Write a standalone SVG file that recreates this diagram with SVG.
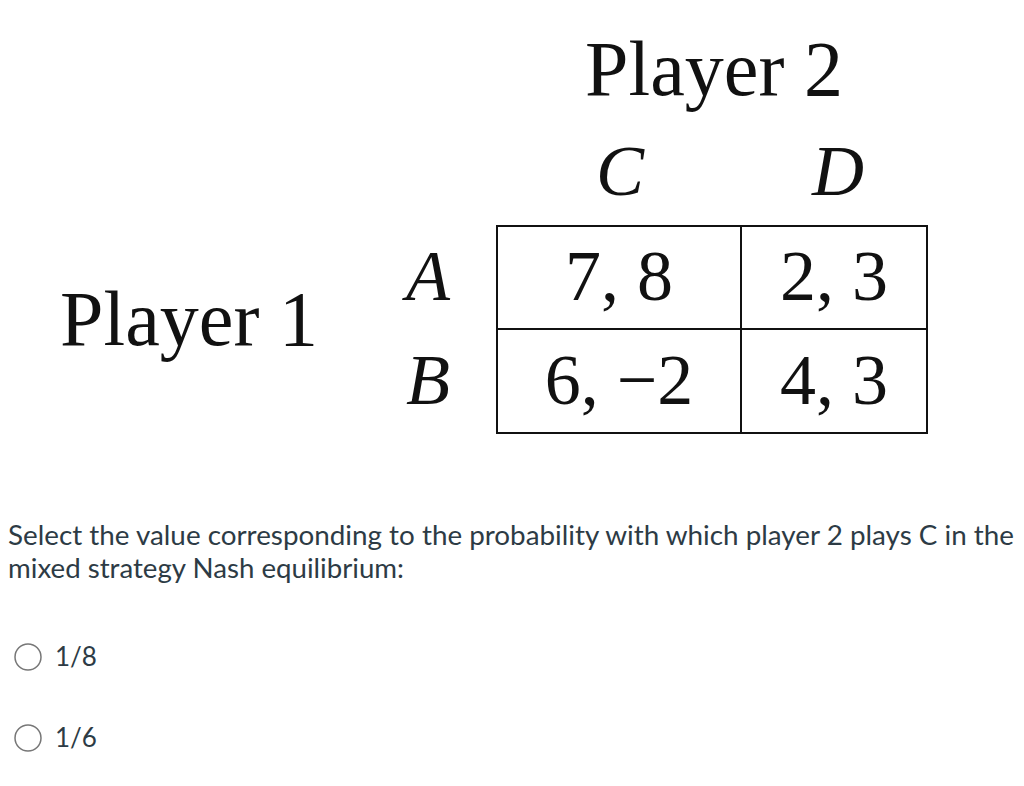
<svg xmlns="http://www.w3.org/2000/svg" width="1024" height="786" viewBox="0 0 1024 786">
<style>
.s{font-family:"Liberation Serif","DejaVu Serif",serif;fill:#111}
.i{font-style:italic}
.q{font-family:Lato,"Liberation Sans",sans-serif;font-size:26px;fill:#2d3b45}
.r{fill:#fff;stroke:#777;stroke-width:1.5}
</style>
<rect width="1024" height="786" fill="#fff"/>
<text class="s" x="714" y="95" font-size="78" text-anchor="middle">Player 2</text>
<text class="s i" x="620" y="195" font-size="72" text-anchor="middle">C</text>
<text class="s i" x="838" y="195" font-size="72" text-anchor="middle">D</text>
<text class="s" x="189" y="345" font-size="78" text-anchor="middle">Player 1</text>
<text class="s i" x="428" y="300" font-size="72" text-anchor="middle">A</text>
<text class="s i" x="428" y="404" font-size="72" text-anchor="middle">B</text>
<g fill="none" stroke="#111" stroke-width="2">
<rect x="497" y="226" width="430" height="207"/>
<line x1="741" y1="226" x2="741" y2="433"/>
<line x1="497" y1="329" x2="927" y2="329"/>
</g>
<text class="s" x="619" y="300" font-size="72" text-anchor="middle">7, 8</text>
<text class="s" x="834" y="300" font-size="72" text-anchor="middle">2, 3</text>
<text class="s" x="619" y="404" font-size="72" text-anchor="middle">6, −2</text>
<text class="s" x="834" y="404" font-size="72" text-anchor="middle">4, 3</text>
<text class="q" x="8" y="545" textLength="1006" lengthAdjust="spacingAndGlyphs">Select the value corresponding to the probability with which player 2 plays C in the</text>
<text class="q" x="8" y="578" textLength="396" lengthAdjust="spacingAndGlyphs">mixed strategy Nash equilibrium:</text>
<circle class="r" cx="28" cy="657" r="13"/>
<text class="q" x="55" y="666">1/8</text>
<circle class="r" cx="28" cy="738" r="13"/>
<text class="q" x="55" y="747">1/6</text>
</svg>
